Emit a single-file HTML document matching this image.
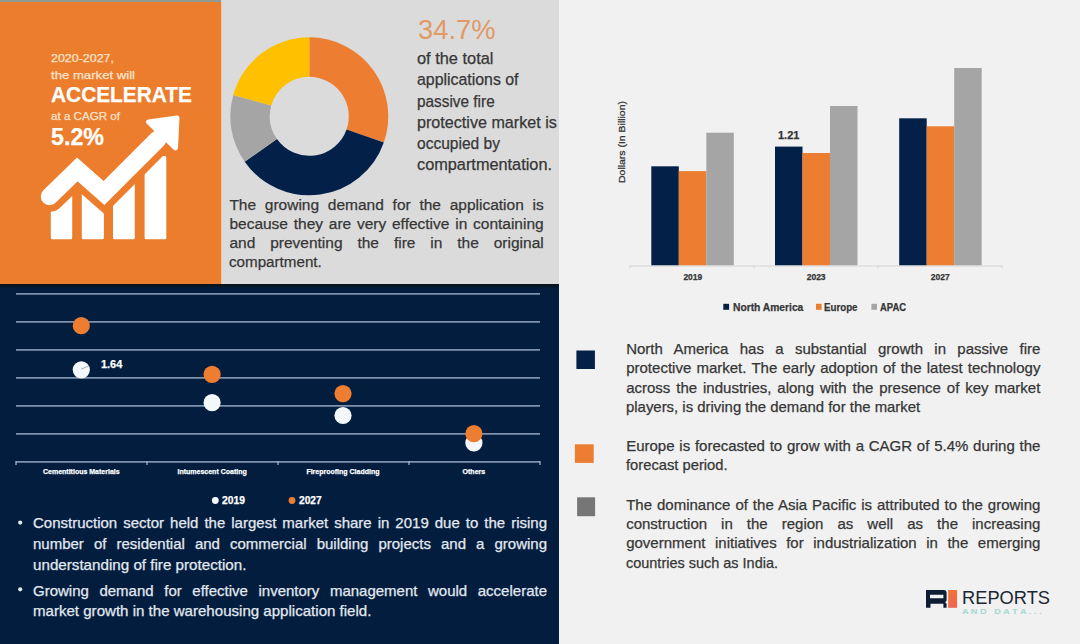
<!DOCTYPE html>
<html><head><meta charset="utf-8"><style>
html,body{margin:0;padding:0;}
body{width:1080px;height:644px;overflow:hidden;background:#f0f0f0;}
#root{position:relative;width:1080px;height:644px;overflow:hidden;font-family:"Liberation Sans",sans-serif;}
.t{position:absolute;white-space:pre;line-height:0;-webkit-text-stroke:0.25px currentColor;}
.abs{position:absolute;}

</style></head><body>
<div id="root">

<div class="abs" style="left:0;top:0;width:221px;height:284px;background:#eb7d2c;"></div>
<div class="abs" style="left:0;top:0;width:221px;height:2px;background:#909a90;"></div>
<div class="abs" style="left:221px;top:0;width:337.5px;height:284px;background:#dbdbdb;"></div>
<div class="abs" style="left:220.6px;top:2px;width:1.2px;height:282px;background:#f0c9a0;"></div>
<div class="abs" style="left:0;top:284px;width:558.5px;height:360px;background:linear-gradient(#07111d 0px,#061526 2px,#031d3f 5px,#031d3f 100%);"></div>
<div class="abs" style="left:558.5px;top:0;width:521.5px;height:644px;background:#f1f1f1;"></div>
<svg class="abs" style="left:0;top:0" width="1080" height="644" viewBox="0 0 1080 644">
<g><rect x="50.8" y="180" width="21.4" height="59.3" rx="1.5" fill="#fff"/><rect x="81.8" y="180" width="22.1" height="59.3" rx="1.5" fill="#fff"/><rect x="113" y="175" width="21.8" height="64.3" rx="1.5" fill="#fff"/><rect x="144.6" y="156" width="21.7" height="83.3" rx="1.5" fill="#fff"/><polyline points="49.5,196.5 77.3,169.5 104,193 160,137" fill="none" stroke="#eb7d2c" stroke-width="31" stroke-linejoin="miter" stroke-miterlimit="10" stroke-linecap="round"/><polyline points="49.5,196.5 77.3,169.5 104,193 158,139" fill="none" stroke="#fff" stroke-width="17.5" stroke-linejoin="miter" stroke-miterlimit="10" stroke-linecap="round"/><path d="M148.5,122 L177,118 L175.5,148 Z" fill="#fff" stroke="#fff" stroke-width="5" stroke-linejoin="round"/></g>
<path d="M309.30,37.30 A79,79 0 0 1 383.81,142.54 L346.56,129.42 A39.5,39.5 0 0 0 309.30,76.80 Z" fill="#ed7d31"/><path d="M383.81,142.54 A79,79 0 0 1 244.67,161.73 L276.98,139.01 A39.5,39.5 0 0 0 346.56,129.42 Z" fill="#032049"/><path d="M244.67,161.73 A79,79 0 0 1 233.25,94.92 L271.27,105.61 A39.5,39.5 0 0 0 276.98,139.01 Z" fill="#a5a5a5"/><path d="M233.25,94.92 A79,79 0 0 1 309.30,37.30 L309.30,76.80 A39.5,39.5 0 0 0 271.27,105.61 Z" fill="#ffc000"/>
<rect x="651.30" y="166.3" width="27.5" height="99.20" fill="#032049"/><rect x="678.80" y="171.1" width="27.5" height="94.40" fill="#ed7d31"/><rect x="706.30" y="132.7" width="27.5" height="132.80" fill="#a5a5a5"/><rect x="775.00" y="146.6" width="27.5" height="118.90" fill="#032049"/><rect x="802.50" y="153.0" width="27.5" height="112.50" fill="#ed7d31"/><rect x="830.00" y="106.0" width="27.5" height="159.50" fill="#a5a5a5"/><rect x="899.20" y="118.3" width="27.5" height="147.20" fill="#032049"/><rect x="926.70" y="126.3" width="27.5" height="139.20" fill="#ed7d31"/><rect x="954.20" y="68.0" width="27.5" height="197.50" fill="#a5a5a5"/>
<rect x="630" y="265.5" width="372" height="1" fill="#d6d6d6"/><rect x="629.5" y="265.5" width="1" height="3" fill="#d6d6d6"/><rect x="753.5" y="265.5" width="1" height="3" fill="#d6d6d6"/><rect x="877.5" y="265.5" width="1" height="3" fill="#d6d6d6"/><rect x="1001.5" y="265.5" width="1" height="3" fill="#d6d6d6"/>
<rect x="16" y="293.25" width="524" height="1.3" fill="#a8b9d0"/><rect x="16" y="321.25" width="524" height="1.3" fill="#a8b9d0"/><rect x="16" y="349.25" width="524" height="1.3" fill="#a8b9d0"/><rect x="16" y="377.25" width="524" height="1.3" fill="#a8b9d0"/><rect x="16" y="405.25" width="524" height="1.3" fill="#a8b9d0"/><rect x="16" y="433.25" width="524" height="1.3" fill="#a8b9d0"/><rect x="16" y="461.25" width="524" height="1.3" fill="#a8b9d0"/><rect x="15.4" y="461" width="1.2" height="4" fill="#a8b9d0"/><rect x="146.4" y="461" width="1.2" height="4" fill="#a8b9d0"/><rect x="277.4" y="461" width="1.2" height="4" fill="#a8b9d0"/><rect x="408.4" y="461" width="1.2" height="4" fill="#a8b9d0"/><rect x="539.4" y="461" width="1.2" height="4" fill="#a8b9d0"/><circle cx="81.3" cy="369.8" r="8.6" fill="#f5f8fb"/><circle cx="81.3" cy="325.7" r="8.6" fill="#ed7d31"/><circle cx="212.1" cy="402.7" r="8.6" fill="#f5f8fb"/><circle cx="212.1" cy="374.4" r="8.6" fill="#ed7d31"/><circle cx="343" cy="415.5" r="8.6" fill="#f5f8fb"/><circle cx="343" cy="393.6" r="8.6" fill="#ed7d31"/><circle cx="473.9" cy="442.9" r="8.6" fill="#f5f8fb"/><circle cx="473.9" cy="433.7" r="8.6" fill="#ed7d31"/><line x1="81.4" y1="369.1" x2="88.8" y2="365.9" stroke="#7c8796" stroke-width="0.7"/><circle cx="215.3" cy="500.5" r="3.4" fill="#f5f8fb"/><circle cx="292" cy="500.5" r="3.4" fill="#ed7d31"/><circle cx="20.2" cy="522.6" r="2.1" fill="#e3e9f0"/><circle cx="20.2" cy="589.3" r="2.1" fill="#e3e9f0"/>
<rect x="576.4" y="350.5" width="18.5" height="18.5" fill="#032049"/>
<rect x="574.9" y="444.3" width="18.8" height="18.6" fill="#ed7d31"/>
<rect x="577.1" y="497.3" width="18" height="18.9" fill="#767676"/>
<rect x="723.3" y="303.8" width="5.8" height="6" fill="#032049"/>
<rect x="816" y="303.8" width="5.6" height="6" fill="#ed7d31"/>
<rect x="871.4" y="303.8" width="5.6" height="6" fill="#a5a5a5"/>
<g>
<path d="M926,590 H943.6 Q946.6,590 946.6,593 V600.6 L945.2,602.2 L946.6,603.8 V607.8 H943.4 V603.7 H930.5 V607.8 H926 Z M930,594.7 V598.3 H943.4 V594.7 Z" fill="#101c33" fill-rule="evenodd"/>
<defs><linearGradient id="lg" x1="0" y1="0" x2="0" y2="1"><stop offset="0" stop-color="#f07438"/><stop offset="1" stop-color="#ee6450"/></linearGradient></defs><rect x="948.2" y="590" width="8.9" height="17.8" fill="url(#lg)"/>
</g>
</svg>

<div class="t" style="left:51.0px;top:58.32px;font-size:11.5px;font-weight:400;color:#fbe3cf;transform:scaleX(1.0824);transform-origin:0 0;">2020-2027,</div>
<div class="t" style="left:51.0px;top:74.52px;font-size:11.5px;font-weight:400;color:#fbe3cf;transform:scaleX(1.1429);transform-origin:0 0;">the market will</div>
<div class="t" style="left:51.0px;top:94.80px;font-size:22.5px;font-weight:700;color:#ffffff;transform:scaleX(0.9271);transform-origin:0 0;">ACCELERATE</div>
<div class="t" style="left:51.0px;top:115.72px;font-size:11.5px;font-weight:400;color:#fbe3cf;transform:scaleX(1.0089);transform-origin:0 0;">at a CAGR of</div>
<div class="t" style="left:51.0px;top:137.01px;font-size:24.2px;font-weight:700;color:#ffffff;transform:scaleX(0.9612);transform-origin:0 0;">5.2%</div>
<div class="t" style="left:417.5px;top:30.30px;font-size:28px;font-weight:400;color:#df9a66;transform:scaleX(0.9760);transform-origin:0 0;-webkit-text-stroke:0;">34.7%</div>
<div class="t" style="left:417.0px;top:58.45px;font-size:16.3px;font-weight:400;color:#363636;transform:scaleX(1.0060);transform-origin:0 0;">of the total</div>
<div class="t" style="left:417.0px;top:79.49px;font-size:16.3px;font-weight:400;color:#363636;transform:scaleX(0.9751);transform-origin:0 0;">applications of</div>
<div class="t" style="left:417.0px;top:100.53px;font-size:16.3px;font-weight:400;color:#363636;transform:scaleX(0.9434);transform-origin:0 0;">passive fire</div>
<div class="t" style="left:417.0px;top:121.57px;font-size:16.3px;font-weight:400;color:#363636;transform:scaleX(0.9904);transform-origin:0 0;">protective market is</div>
<div class="t" style="left:417.0px;top:142.61px;font-size:16.3px;font-weight:400;color:#363636;transform:scaleX(0.9551);transform-origin:0 0;">occupied by</div>
<div class="t" style="left:417.0px;top:163.65px;font-size:16.3px;font-weight:400;color:#363636;transform:scaleX(1.0012);transform-origin:0 0;">compartmentation.</div>
<div class="t" style="left:229.4px;top:204.83px;font-size:15.5px;font-weight:400;color:#363636;word-spacing:4.420px;">The growing demand for the application is</div>
<div class="t" style="left:229.4px;top:223.63px;font-size:15.5px;font-weight:400;color:#363636;word-spacing:1.448px;">because they are very effective in containing</div>
<div class="t" style="left:229.4px;top:242.63px;font-size:15.5px;font-weight:400;color:#363636;word-spacing:10.592px;">and preventing the fire in the original</div>
<div class="t" style="left:229.4px;top:261.53px;font-size:15.5px;font-weight:400;color:#363636;transform:scaleX(0.9793);transform-origin:0 0;">compartment.</div>
<div class="t" style="left:33.0px;top:523.10px;font-size:15px;font-weight:400;color:#e3e9f0;word-spacing:1.837px;">Construction sector held the largest market share in 2019 due to the rising</div>
<div class="t" style="left:33.0px;top:544.40px;font-size:15px;font-weight:400;color:#e3e9f0;word-spacing:5.878px;">number of residential and commercial building projects and a growing</div>
<div class="t" style="left:33.0px;top:565.10px;font-size:15px;font-weight:400;color:#e3e9f0;transform:scaleX(1.0115);transform-origin:0 0;">understanding of fire protection.</div>
<div class="t" style="left:33.0px;top:590.50px;font-size:15px;font-weight:400;color:#e3e9f0;word-spacing:6.406px;">Growing demand for effective inventory management would accelerate</div>
<div class="t" style="left:33.0px;top:611.30px;font-size:15px;font-weight:400;color:#e3e9f0;transform:scaleX(1.0046);transform-origin:0 0;">market growth in the warehousing application field.</div>
<div class="t" style="left:626.2px;top:348.90px;font-size:15px;font-weight:400;color:#363636;word-spacing:7.170px;">North America has a substantial growth in passive fire</div>
<div class="t" style="left:626.2px;top:368.10px;font-size:15px;font-weight:400;color:#363636;word-spacing:1.050px;">protective market. The early adoption of the latest technology</div>
<div class="t" style="left:626.2px;top:387.90px;font-size:15px;font-weight:400;color:#363636;word-spacing:1.739px;">across the industries, along with the presence of key market</div>
<div class="t" style="left:626.2px;top:407.10px;font-size:15px;font-weight:400;color:#363636;transform:scaleX(0.9940);transform-origin:0 0;">players, is driving the demand for the market</div>
<div class="t" style="left:626.2px;top:445.60px;font-size:15px;font-weight:400;color:#363636;word-spacing:0.589px;">Europe is forecasted to grow with a CAGR of 5.4% during the</div>
<div class="t" style="left:626.2px;top:464.90px;font-size:15px;font-weight:400;color:#363636;transform:scaleX(0.9827);transform-origin:0 0;">forecast period.</div>
<div class="t" style="left:626.2px;top:504.60px;font-size:15px;font-weight:400;color:#363636;word-spacing:0.814px;">The dominance of the Asia Pacific is attributed to the growing</div>
<div class="t" style="left:626.2px;top:523.70px;font-size:15px;font-weight:400;color:#363636;word-spacing:9.877px;">construction in the region as well as the increasing</div>
<div class="t" style="left:626.2px;top:543.00px;font-size:15px;font-weight:400;color:#363636;word-spacing:5.388px;">government initiatives for industrialization in the emerging</div>
<div class="t" style="left:626.2px;top:562.70px;font-size:15px;font-weight:400;color:#363636;transform:scaleX(0.9645);transform-origin:0 0;">countries such as India.</div>
<div class="t" style="left:100.9px;top:364.02px;font-size:11.5px;font-weight:700;color:#ffffff;transform:scaleX(0.9513);transform-origin:0 0;">1.64</div>
<div class="t" style="left:43.0px;top:471.77px;font-size:7.0px;font-weight:700;color:#ffffff;">Cementitious Materials</div>
<div class="t" style="left:177.5px;top:471.77px;font-size:7.0px;font-weight:700;color:#ffffff;">Intumescent Coating</div>
<div class="t" style="left:306.4px;top:471.77px;font-size:7.0px;font-weight:700;color:#ffffff;">Fireproofing Cladding</div>
<div class="t" style="left:462.6px;top:471.77px;font-size:7.0px;font-weight:700;color:#ffffff;">Others</div>
<div class="t" style="left:222.0px;top:500.16px;font-size:10.5px;font-weight:700;color:#ffffff;transform:scaleX(0.9846);transform-origin:0 0;">2019</div>
<div class="t" style="left:298.7px;top:500.16px;font-size:10.5px;font-weight:700;color:#ffffff;transform:scaleX(0.9675);transform-origin:0 0;">2027</div>
<div class="t" style="left:778.0px;top:134.99px;font-size:11px;font-weight:700;color:#363636;">1.21</div>
<div class="t" style="left:683.4px;top:277.25px;font-size:8.5px;font-weight:700;color:#363636;">2019</div>
<div class="t" style="left:806.7px;top:277.25px;font-size:8.5px;font-weight:700;color:#363636;">2023</div>
<div class="t" style="left:930.8px;top:277.25px;font-size:8.5px;font-weight:700;color:#363636;">2027</div>
<div class="t" style="left:732.5px;top:306.69px;font-size:11px;font-weight:700;color:#363636;transform:scaleX(0.9325);transform-origin:0 0;">North America</div>
<div class="t" style="left:824.2px;top:306.69px;font-size:11px;font-weight:700;color:#363636;transform:scaleX(0.8838);transform-origin:0 0;">Europe</div>
<div class="t" style="left:879.5px;top:306.69px;font-size:11px;font-weight:700;color:#363636;transform:scaleX(0.8564);transform-origin:0 0;">APAC</div>
<div class="t" style="left:621.8px;top:142.20px;font-size:9.8px;font-weight:400;color:#333333;transform:rotate(-90deg) translateX(-41.00px) scaleX(1.0682);transform-origin:0 0;">Dollars (In Billion)</div>
<div class="t" style="left:962.0px;top:598.15px;font-size:19.2px;font-weight:400;color:#1b2633;transform:scaleX(0.9523);transform-origin:0 0;-webkit-text-stroke:0;">REPORTS</div>
<div class="t" style="left:962.0px;top:611.83px;font-size:8px;font-weight:700;color:#a5d8d2;transform:scaleX(1.1491);transform-origin:0 0;-webkit-text-stroke:0;">A N D   D A T A . . .</div>
</div>
</body></html>
